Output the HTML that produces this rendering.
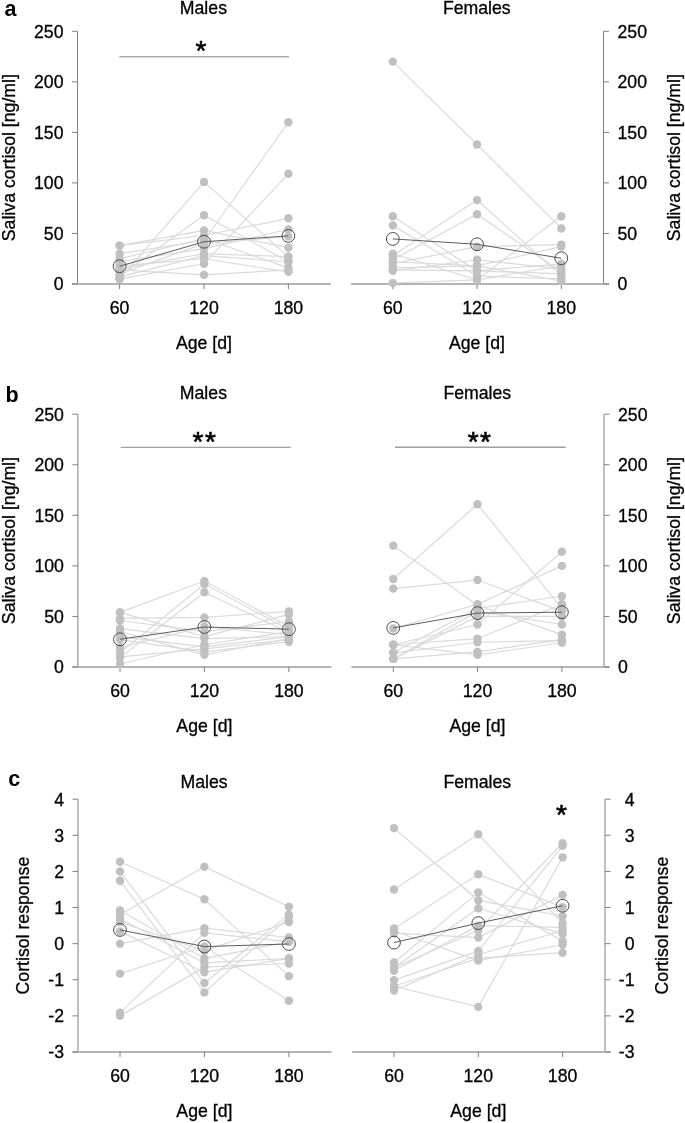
<!DOCTYPE html><html><head><meta charset="utf-8"><style>html,body{margin:0;padding:0;background:#fff;width:685px;height:1123px;overflow:hidden}svg{display:block;will-change:transform;filter:blur(0.35px)}</style></head><body>
<svg width="685" height="1123" viewBox="0 0 685 1123" font-family='"Liberation Sans", sans-serif' font-size="17.7" fill="#000">
<g stroke="#000" stroke-width="0.3">
<rect width="685" height="1123" fill="#fff" stroke="none"/>
<text x="4.5" y="16.3" font-size="21.5" font-weight="bold" stroke="none">a</text>
<text x="5.5" y="401.6" font-size="21.5" font-weight="bold" stroke="none">b</text>
<text x="8.3" y="785.8" font-size="21.5" font-weight="bold" stroke="none">c</text>
<text x="203.4" y="13.7" text-anchor="middle">Males</text>
<text x="476.8" y="13.7" text-anchor="middle">Females</text>
<text x="203.4" y="399.3" text-anchor="middle">Males</text>
<text x="477.3" y="399.3" text-anchor="middle">Females</text>
<text x="204.0" y="787.8" text-anchor="middle">Males</text>
<text x="477.3" y="787.8" text-anchor="middle">Females</text>
<text transform="translate(14.9,157.65) rotate(-90)" text-anchor="middle">Saliva cortisol [ng/ml]</text>
<text transform="translate(679.9,157.65) rotate(-90)" text-anchor="middle">Saliva cortisol [ng/ml]</text>
<text transform="translate(14.9,540.60) rotate(-90)" text-anchor="middle">Saliva cortisol [ng/ml]</text>
<text transform="translate(679.9,540.60) rotate(-90)" text-anchor="middle">Saliva cortisol [ng/ml]</text>
<text transform="translate(28.8,925.60) rotate(-90)" text-anchor="middle">Cortisol response</text>
<text transform="translate(667.7,925.60) rotate(-90)" text-anchor="middle">Cortisol response</text>
<line x1="77.5" y1="31.3" x2="77.5" y2="284.0" stroke="#808080" stroke-width="1"/>
<line x1="72.00" y1="284.0" x2="331.00" y2="284.0" stroke="#b4b4b4" stroke-width="2"/>
<line x1="72.00" y1="284.00" x2="77.5" y2="284.00" stroke="#808080" stroke-width="1"/>
<text x="63.50" y="290.30" text-anchor="end">0</text>
<line x1="72.00" y1="233.46" x2="77.5" y2="233.46" stroke="#808080" stroke-width="1"/>
<text x="63.50" y="239.76" text-anchor="end">50</text>
<line x1="72.00" y1="182.92" x2="77.5" y2="182.92" stroke="#808080" stroke-width="1"/>
<text x="63.50" y="189.22" text-anchor="end">100</text>
<line x1="72.00" y1="132.38" x2="77.5" y2="132.38" stroke="#808080" stroke-width="1"/>
<text x="63.50" y="138.68" text-anchor="end">150</text>
<line x1="72.00" y1="81.84" x2="77.5" y2="81.84" stroke="#808080" stroke-width="1"/>
<text x="63.50" y="88.14" text-anchor="end">200</text>
<line x1="72.00" y1="31.30" x2="77.5" y2="31.30" stroke="#808080" stroke-width="1"/>
<text x="63.50" y="37.60" text-anchor="end">250</text>
<line x1="119.6" y1="284.0" x2="119.6" y2="289.0" stroke="#808080" stroke-width="1"/>
<line x1="204.0" y1="284.0" x2="204.0" y2="289.0" stroke="#808080" stroke-width="1"/>
<line x1="288.4" y1="284.0" x2="288.4" y2="289.0" stroke="#808080" stroke-width="1"/>
<text x="119.6" y="314.20" text-anchor="middle">60</text>
<text x="204.0" y="314.20" text-anchor="middle">120</text>
<text x="288.4" y="314.20" text-anchor="middle">180</text>
<text x="204.0" y="349.20" text-anchor="middle">Age [d]</text>
<line x1="603.5" y1="31.3" x2="603.5" y2="284.0" stroke="#808080" stroke-width="1"/>
<line x1="351.00" y1="284.0" x2="609.00" y2="284.0" stroke="#b4b4b4" stroke-width="2"/>
<line x1="603.5" y1="284.00" x2="609.00" y2="284.00" stroke="#808080" stroke-width="1"/>
<text x="617.50" y="290.30">0</text>
<line x1="603.5" y1="233.46" x2="609.00" y2="233.46" stroke="#808080" stroke-width="1"/>
<text x="617.50" y="239.76">50</text>
<line x1="603.5" y1="182.92" x2="609.00" y2="182.92" stroke="#808080" stroke-width="1"/>
<text x="617.50" y="189.22">100</text>
<line x1="603.5" y1="132.38" x2="609.00" y2="132.38" stroke="#808080" stroke-width="1"/>
<text x="617.50" y="138.68">150</text>
<line x1="603.5" y1="81.84" x2="609.00" y2="81.84" stroke="#808080" stroke-width="1"/>
<text x="617.50" y="88.14">200</text>
<line x1="603.5" y1="31.30" x2="609.00" y2="31.30" stroke="#808080" stroke-width="1"/>
<text x="617.50" y="37.60">250</text>
<line x1="392.8" y1="284.0" x2="392.8" y2="289.0" stroke="#808080" stroke-width="1"/>
<line x1="477.0" y1="284.0" x2="477.0" y2="289.0" stroke="#808080" stroke-width="1"/>
<line x1="561.3" y1="284.0" x2="561.3" y2="289.0" stroke="#808080" stroke-width="1"/>
<text x="392.8" y="314.20" text-anchor="middle">60</text>
<text x="477.0" y="314.20" text-anchor="middle">120</text>
<text x="561.3" y="314.20" text-anchor="middle">180</text>
<text x="477.0" y="349.20" text-anchor="middle">Age [d]</text>
<line x1="77.9" y1="414.2" x2="77.9" y2="667.0" stroke="#808080" stroke-width="1"/>
<line x1="72.40" y1="667.0" x2="331.50" y2="667.0" stroke="#b4b4b4" stroke-width="2"/>
<line x1="72.40" y1="667.00" x2="77.9" y2="667.00" stroke="#808080" stroke-width="1"/>
<text x="63.90" y="673.30" text-anchor="end">0</text>
<line x1="72.40" y1="616.44" x2="77.9" y2="616.44" stroke="#808080" stroke-width="1"/>
<text x="63.90" y="622.74" text-anchor="end">50</text>
<line x1="72.40" y1="565.88" x2="77.9" y2="565.88" stroke="#808080" stroke-width="1"/>
<text x="63.90" y="572.18" text-anchor="end">100</text>
<line x1="72.40" y1="515.32" x2="77.9" y2="515.32" stroke="#808080" stroke-width="1"/>
<text x="63.90" y="521.62" text-anchor="end">150</text>
<line x1="72.40" y1="464.76" x2="77.9" y2="464.76" stroke="#808080" stroke-width="1"/>
<text x="63.90" y="471.06" text-anchor="end">200</text>
<line x1="72.40" y1="414.20" x2="77.9" y2="414.20" stroke="#808080" stroke-width="1"/>
<text x="63.90" y="420.50" text-anchor="end">250</text>
<line x1="120.0" y1="667.0" x2="120.0" y2="672.0" stroke="#808080" stroke-width="1"/>
<line x1="204.4" y1="667.0" x2="204.4" y2="672.0" stroke="#808080" stroke-width="1"/>
<line x1="288.9" y1="667.0" x2="288.9" y2="672.0" stroke="#808080" stroke-width="1"/>
<text x="120.0" y="697.20" text-anchor="middle">60</text>
<text x="204.4" y="697.20" text-anchor="middle">120</text>
<text x="288.9" y="697.20" text-anchor="middle">180</text>
<text x="204.4" y="732.20" text-anchor="middle">Age [d]</text>
<line x1="604.0" y1="414.2" x2="604.0" y2="667.0" stroke="#808080" stroke-width="1"/>
<line x1="351.50" y1="667.0" x2="609.50" y2="667.0" stroke="#b4b4b4" stroke-width="2"/>
<line x1="604.0" y1="667.00" x2="609.50" y2="667.00" stroke="#808080" stroke-width="1"/>
<text x="618.00" y="673.30">0</text>
<line x1="604.0" y1="616.44" x2="609.50" y2="616.44" stroke="#808080" stroke-width="1"/>
<text x="618.00" y="622.74">50</text>
<line x1="604.0" y1="565.88" x2="609.50" y2="565.88" stroke="#808080" stroke-width="1"/>
<text x="618.00" y="572.18">100</text>
<line x1="604.0" y1="515.32" x2="609.50" y2="515.32" stroke="#808080" stroke-width="1"/>
<text x="618.00" y="521.62">150</text>
<line x1="604.0" y1="464.76" x2="609.50" y2="464.76" stroke="#808080" stroke-width="1"/>
<text x="618.00" y="471.06">200</text>
<line x1="604.0" y1="414.20" x2="609.50" y2="414.20" stroke="#808080" stroke-width="1"/>
<text x="618.00" y="420.50">250</text>
<line x1="393.3" y1="667.0" x2="393.3" y2="672.0" stroke="#808080" stroke-width="1"/>
<line x1="477.5" y1="667.0" x2="477.5" y2="672.0" stroke="#808080" stroke-width="1"/>
<line x1="561.9" y1="667.0" x2="561.9" y2="672.0" stroke="#808080" stroke-width="1"/>
<text x="393.3" y="697.20" text-anchor="middle">60</text>
<text x="477.5" y="697.20" text-anchor="middle">120</text>
<text x="561.9" y="697.20" text-anchor="middle">180</text>
<text x="477.5" y="732.20" text-anchor="middle">Age [d]</text>
<line x1="78.0" y1="799.2" x2="78.0" y2="1052.0" stroke="#808080" stroke-width="1"/>
<line x1="72.50" y1="1052.0" x2="331.50" y2="1052.0" stroke="#b4b4b4" stroke-width="2"/>
<line x1="72.50" y1="799.20" x2="78.0" y2="799.20" stroke="#808080" stroke-width="1"/>
<text x="64.00" y="805.50" text-anchor="end">4</text>
<line x1="72.50" y1="835.31" x2="78.0" y2="835.31" stroke="#808080" stroke-width="1"/>
<text x="64.00" y="841.61" text-anchor="end">3</text>
<line x1="72.50" y1="871.43" x2="78.0" y2="871.43" stroke="#808080" stroke-width="1"/>
<text x="64.00" y="877.73" text-anchor="end">2</text>
<line x1="72.50" y1="907.54" x2="78.0" y2="907.54" stroke="#808080" stroke-width="1"/>
<text x="64.00" y="913.84" text-anchor="end">1</text>
<line x1="72.50" y1="943.66" x2="78.0" y2="943.66" stroke="#808080" stroke-width="1"/>
<text x="64.00" y="949.96" text-anchor="end">0</text>
<line x1="72.50" y1="979.77" x2="78.0" y2="979.77" stroke="#808080" stroke-width="1"/>
<text x="64.00" y="986.07" text-anchor="end">-1</text>
<line x1="72.50" y1="1015.89" x2="78.0" y2="1015.89" stroke="#808080" stroke-width="1"/>
<text x="64.00" y="1022.19" text-anchor="end">-2</text>
<line x1="72.50" y1="1052.00" x2="78.0" y2="1052.00" stroke="#808080" stroke-width="1"/>
<text x="64.00" y="1058.30" text-anchor="end">-3</text>
<line x1="120.0" y1="1052.0" x2="120.0" y2="1057.0" stroke="#808080" stroke-width="1"/>
<line x1="204.4" y1="1052.0" x2="204.4" y2="1057.0" stroke="#808080" stroke-width="1"/>
<line x1="288.9" y1="1052.0" x2="288.9" y2="1057.0" stroke="#808080" stroke-width="1"/>
<text x="120.0" y="1082.20" text-anchor="middle">60</text>
<text x="204.4" y="1082.20" text-anchor="middle">120</text>
<text x="288.9" y="1082.20" text-anchor="middle">180</text>
<text x="204.4" y="1117.20" text-anchor="middle">Age [d]</text>
<line x1="605.0" y1="799.2" x2="605.0" y2="1052.0" stroke="#808080" stroke-width="1"/>
<line x1="352.20" y1="1052.0" x2="610.50" y2="1052.0" stroke="#b4b4b4" stroke-width="2"/>
<line x1="605.0" y1="799.20" x2="610.50" y2="799.20" stroke="#808080" stroke-width="1"/>
<text x="634.6" y="805.50" text-anchor="end">4</text>
<line x1="605.0" y1="835.31" x2="610.50" y2="835.31" stroke="#808080" stroke-width="1"/>
<text x="634.6" y="841.61" text-anchor="end">3</text>
<line x1="605.0" y1="871.43" x2="610.50" y2="871.43" stroke="#808080" stroke-width="1"/>
<text x="634.6" y="877.73" text-anchor="end">2</text>
<line x1="605.0" y1="907.54" x2="610.50" y2="907.54" stroke="#808080" stroke-width="1"/>
<text x="634.6" y="913.84" text-anchor="end">1</text>
<line x1="605.0" y1="943.66" x2="610.50" y2="943.66" stroke="#808080" stroke-width="1"/>
<text x="634.6" y="949.96" text-anchor="end">0</text>
<line x1="605.0" y1="979.77" x2="610.50" y2="979.77" stroke="#808080" stroke-width="1"/>
<text x="634.6" y="986.07" text-anchor="end">-1</text>
<line x1="605.0" y1="1015.89" x2="610.50" y2="1015.89" stroke="#808080" stroke-width="1"/>
<text x="634.6" y="1022.19" text-anchor="end">-2</text>
<line x1="605.0" y1="1052.00" x2="610.50" y2="1052.00" stroke="#808080" stroke-width="1"/>
<text x="634.6" y="1058.30" text-anchor="end">-3</text>
<line x1="394.0" y1="1052.0" x2="394.0" y2="1057.0" stroke="#808080" stroke-width="1"/>
<line x1="478.3" y1="1052.0" x2="478.3" y2="1057.0" stroke="#808080" stroke-width="1"/>
<line x1="562.6" y1="1052.0" x2="562.6" y2="1057.0" stroke="#808080" stroke-width="1"/>
<text x="394.0" y="1082.20" text-anchor="middle">60</text>
<text x="478.3" y="1082.20" text-anchor="middle">120</text>
<text x="562.6" y="1082.20" text-anchor="middle">180</text>
<text x="478.3" y="1117.20" text-anchor="middle">Age [d]</text>
<polyline points="119.6,278.95 204.0,181.91 288.4,256.71" fill="none" stroke="#dadada" stroke-width="1.2"/>
<polyline points="119.6,275.91 204.0,215.27 288.4,261.76" fill="none" stroke="#dadada" stroke-width="1.2"/>
<polyline points="119.6,245.59 204.0,230.43 288.4,247.61" fill="none" stroke="#dadada" stroke-width="1.2"/>
<polyline points="119.6,253.68 204.0,240.54 288.4,122.27" fill="none" stroke="#dadada" stroke-width="1.2"/>
<polyline points="119.6,278.95 204.0,263.78 288.4,173.82" fill="none" stroke="#dadada" stroke-width="1.2"/>
<polyline points="119.6,269.85 204.0,274.90 288.4,269.85" fill="none" stroke="#dadada" stroke-width="1.2"/>
<polyline points="119.6,245.59 204.0,235.48 288.4,218.30" fill="none" stroke="#dadada" stroke-width="1.2"/>
<polyline points="119.6,261.76 204.0,248.62 288.4,229.42" fill="none" stroke="#dadada" stroke-width="1.2"/>
<polyline points="119.6,268.84 204.0,253.68 288.4,256.71" fill="none" stroke="#dadada" stroke-width="1.2"/>
<polyline points="119.6,265.81 204.0,258.73 288.4,271.87" fill="none" stroke="#dadada" stroke-width="1.2"/>
<polyline points="119.6,273.89 204.0,243.57 288.4,236.49" fill="none" stroke="#dadada" stroke-width="1.2"/>
<polyline points="119.6,276.92 204.0,255.70 288.4,261.76" fill="none" stroke="#dadada" stroke-width="1.2"/>
<polyline points="119.6,258.73 204.0,238.51 288.4,267.83" fill="none" stroke="#dadada" stroke-width="1.2"/>
<circle cx="119.6" cy="278.95" r="4.2" fill="#c0c0c0" stroke="none"/>
<circle cx="204.0" cy="181.91" r="4.2" fill="#c0c0c0" stroke="none"/>
<circle cx="288.4" cy="256.71" r="4.2" fill="#c0c0c0" stroke="none"/>
<circle cx="119.6" cy="275.91" r="4.2" fill="#c0c0c0" stroke="none"/>
<circle cx="204.0" cy="215.27" r="4.2" fill="#c0c0c0" stroke="none"/>
<circle cx="288.4" cy="261.76" r="4.2" fill="#c0c0c0" stroke="none"/>
<circle cx="119.6" cy="245.59" r="4.2" fill="#c0c0c0" stroke="none"/>
<circle cx="204.0" cy="230.43" r="4.2" fill="#c0c0c0" stroke="none"/>
<circle cx="288.4" cy="247.61" r="4.2" fill="#c0c0c0" stroke="none"/>
<circle cx="119.6" cy="253.68" r="4.2" fill="#c0c0c0" stroke="none"/>
<circle cx="204.0" cy="240.54" r="4.2" fill="#c0c0c0" stroke="none"/>
<circle cx="288.4" cy="122.27" r="4.2" fill="#c0c0c0" stroke="none"/>
<circle cx="119.6" cy="278.95" r="4.2" fill="#c0c0c0" stroke="none"/>
<circle cx="204.0" cy="263.78" r="4.2" fill="#c0c0c0" stroke="none"/>
<circle cx="288.4" cy="173.82" r="4.2" fill="#c0c0c0" stroke="none"/>
<circle cx="119.6" cy="269.85" r="4.2" fill="#c0c0c0" stroke="none"/>
<circle cx="204.0" cy="274.90" r="4.2" fill="#c0c0c0" stroke="none"/>
<circle cx="288.4" cy="269.85" r="4.2" fill="#c0c0c0" stroke="none"/>
<circle cx="119.6" cy="245.59" r="4.2" fill="#c0c0c0" stroke="none"/>
<circle cx="204.0" cy="235.48" r="4.2" fill="#c0c0c0" stroke="none"/>
<circle cx="288.4" cy="218.30" r="4.2" fill="#c0c0c0" stroke="none"/>
<circle cx="119.6" cy="261.76" r="4.2" fill="#c0c0c0" stroke="none"/>
<circle cx="204.0" cy="248.62" r="4.2" fill="#c0c0c0" stroke="none"/>
<circle cx="288.4" cy="229.42" r="4.2" fill="#c0c0c0" stroke="none"/>
<circle cx="119.6" cy="268.84" r="4.2" fill="#c0c0c0" stroke="none"/>
<circle cx="204.0" cy="253.68" r="4.2" fill="#c0c0c0" stroke="none"/>
<circle cx="288.4" cy="256.71" r="4.2" fill="#c0c0c0" stroke="none"/>
<circle cx="119.6" cy="265.81" r="4.2" fill="#c0c0c0" stroke="none"/>
<circle cx="204.0" cy="258.73" r="4.2" fill="#c0c0c0" stroke="none"/>
<circle cx="288.4" cy="271.87" r="4.2" fill="#c0c0c0" stroke="none"/>
<circle cx="119.6" cy="273.89" r="4.2" fill="#c0c0c0" stroke="none"/>
<circle cx="204.0" cy="243.57" r="4.2" fill="#c0c0c0" stroke="none"/>
<circle cx="288.4" cy="236.49" r="4.2" fill="#c0c0c0" stroke="none"/>
<circle cx="119.6" cy="276.92" r="4.2" fill="#c0c0c0" stroke="none"/>
<circle cx="204.0" cy="255.70" r="4.2" fill="#c0c0c0" stroke="none"/>
<circle cx="288.4" cy="261.76" r="4.2" fill="#c0c0c0" stroke="none"/>
<circle cx="119.6" cy="258.73" r="4.2" fill="#c0c0c0" stroke="none"/>
<circle cx="204.0" cy="238.51" r="4.2" fill="#c0c0c0" stroke="none"/>
<circle cx="288.4" cy="267.83" r="4.2" fill="#c0c0c0" stroke="none"/>
<polyline points="119.6,266.21 204.0,241.75 288.4,235.89" fill="none" stroke="#5c5c5c" stroke-width="1"/>
<circle cx="119.6" cy="266.21" r="6.4" fill="none" stroke="#4a4a4a" stroke-width="1.0"/>
<circle cx="204.0" cy="241.75" r="6.4" fill="none" stroke="#4a4a4a" stroke-width="1.0"/>
<circle cx="288.4" cy="235.89" r="6.4" fill="none" stroke="#4a4a4a" stroke-width="1.0"/>
<polyline points="392.8,61.62 477.0,144.51 561.3,228.41" fill="none" stroke="#dadada" stroke-width="1.2"/>
<polyline points="392.8,216.28 477.0,270.86 561.3,273.89" fill="none" stroke="#dadada" stroke-width="1.2"/>
<polyline points="392.8,225.37 477.0,275.91 561.3,278.95" fill="none" stroke="#dadada" stroke-width="1.2"/>
<polyline points="392.8,255.70 477.0,200.10 561.3,275.91" fill="none" stroke="#dadada" stroke-width="1.2"/>
<polyline points="392.8,259.74 477.0,214.25 561.3,271.87" fill="none" stroke="#dadada" stroke-width="1.2"/>
<polyline points="392.8,282.99 477.0,279.96 561.3,265.81" fill="none" stroke="#dadada" stroke-width="1.2"/>
<polyline points="392.8,253.68 477.0,279.96 561.3,216.28" fill="none" stroke="#dadada" stroke-width="1.2"/>
<polyline points="392.8,263.78 477.0,246.60 561.3,244.58" fill="none" stroke="#dadada" stroke-width="1.2"/>
<polyline points="392.8,267.83 477.0,265.81 561.3,246.60" fill="none" stroke="#dadada" stroke-width="1.2"/>
<polyline points="392.8,270.86 477.0,259.74 561.3,268.84" fill="none" stroke="#dadada" stroke-width="1.2"/>
<polyline points="392.8,261.76 477.0,265.81 561.3,280.97" fill="none" stroke="#dadada" stroke-width="1.2"/>
<polyline points="392.8,269.85 477.0,270.86 561.3,263.78" fill="none" stroke="#dadada" stroke-width="1.2"/>
<circle cx="392.8" cy="61.62" r="4.2" fill="#c0c0c0" stroke="none"/>
<circle cx="477.0" cy="144.51" r="4.2" fill="#c0c0c0" stroke="none"/>
<circle cx="561.3" cy="228.41" r="4.2" fill="#c0c0c0" stroke="none"/>
<circle cx="392.8" cy="216.28" r="4.2" fill="#c0c0c0" stroke="none"/>
<circle cx="477.0" cy="270.86" r="4.2" fill="#c0c0c0" stroke="none"/>
<circle cx="561.3" cy="273.89" r="4.2" fill="#c0c0c0" stroke="none"/>
<circle cx="392.8" cy="225.37" r="4.2" fill="#c0c0c0" stroke="none"/>
<circle cx="477.0" cy="275.91" r="4.2" fill="#c0c0c0" stroke="none"/>
<circle cx="561.3" cy="278.95" r="4.2" fill="#c0c0c0" stroke="none"/>
<circle cx="392.8" cy="255.70" r="4.2" fill="#c0c0c0" stroke="none"/>
<circle cx="477.0" cy="200.10" r="4.2" fill="#c0c0c0" stroke="none"/>
<circle cx="561.3" cy="275.91" r="4.2" fill="#c0c0c0" stroke="none"/>
<circle cx="392.8" cy="259.74" r="4.2" fill="#c0c0c0" stroke="none"/>
<circle cx="477.0" cy="214.25" r="4.2" fill="#c0c0c0" stroke="none"/>
<circle cx="561.3" cy="271.87" r="4.2" fill="#c0c0c0" stroke="none"/>
<circle cx="392.8" cy="282.99" r="4.2" fill="#c0c0c0" stroke="none"/>
<circle cx="477.0" cy="279.96" r="4.2" fill="#c0c0c0" stroke="none"/>
<circle cx="561.3" cy="265.81" r="4.2" fill="#c0c0c0" stroke="none"/>
<circle cx="392.8" cy="253.68" r="4.2" fill="#c0c0c0" stroke="none"/>
<circle cx="477.0" cy="279.96" r="4.2" fill="#c0c0c0" stroke="none"/>
<circle cx="561.3" cy="216.28" r="4.2" fill="#c0c0c0" stroke="none"/>
<circle cx="392.8" cy="263.78" r="4.2" fill="#c0c0c0" stroke="none"/>
<circle cx="477.0" cy="246.60" r="4.2" fill="#c0c0c0" stroke="none"/>
<circle cx="561.3" cy="244.58" r="4.2" fill="#c0c0c0" stroke="none"/>
<circle cx="392.8" cy="267.83" r="4.2" fill="#c0c0c0" stroke="none"/>
<circle cx="477.0" cy="265.81" r="4.2" fill="#c0c0c0" stroke="none"/>
<circle cx="561.3" cy="246.60" r="4.2" fill="#c0c0c0" stroke="none"/>
<circle cx="392.8" cy="270.86" r="4.2" fill="#c0c0c0" stroke="none"/>
<circle cx="477.0" cy="259.74" r="4.2" fill="#c0c0c0" stroke="none"/>
<circle cx="561.3" cy="268.84" r="4.2" fill="#c0c0c0" stroke="none"/>
<circle cx="392.8" cy="261.76" r="4.2" fill="#c0c0c0" stroke="none"/>
<circle cx="477.0" cy="265.81" r="4.2" fill="#c0c0c0" stroke="none"/>
<circle cx="561.3" cy="280.97" r="4.2" fill="#c0c0c0" stroke="none"/>
<circle cx="392.8" cy="269.85" r="4.2" fill="#c0c0c0" stroke="none"/>
<circle cx="477.0" cy="270.86" r="4.2" fill="#c0c0c0" stroke="none"/>
<circle cx="561.3" cy="263.78" r="4.2" fill="#c0c0c0" stroke="none"/>
<polyline points="392.8,238.92 477.0,244.28 561.3,258.22" fill="none" stroke="#5c5c5c" stroke-width="1"/>
<circle cx="392.8" cy="238.92" r="6.4" fill="none" stroke="#4a4a4a" stroke-width="1.0"/>
<circle cx="477.0" cy="244.28" r="6.4" fill="none" stroke="#4a4a4a" stroke-width="1.0"/>
<circle cx="561.3" cy="258.22" r="6.4" fill="none" stroke="#4a4a4a" stroke-width="1.0"/>
<polyline points="120.0,612.40 204.4,581.05 288.9,626.55" fill="none" stroke="#dadada" stroke-width="1.2"/>
<polyline points="120.0,652.84 204.4,584.08 288.9,629.59" fill="none" stroke="#dadada" stroke-width="1.2"/>
<polyline points="120.0,657.90 204.4,592.17 288.9,632.62" fill="none" stroke="#dadada" stroke-width="1.2"/>
<polyline points="120.0,618.46 204.4,617.45 288.9,611.38" fill="none" stroke="#dadada" stroke-width="1.2"/>
<polyline points="120.0,612.40 204.4,636.66 288.9,614.42" fill="none" stroke="#dadada" stroke-width="1.2"/>
<polyline points="120.0,620.48 204.4,631.61 288.9,621.50" fill="none" stroke="#dadada" stroke-width="1.2"/>
<polyline points="120.0,628.57 204.4,638.69 288.9,636.66" fill="none" stroke="#dadada" stroke-width="1.2"/>
<polyline points="120.0,631.61 204.4,654.87 288.9,638.69" fill="none" stroke="#dadada" stroke-width="1.2"/>
<polyline points="120.0,647.79 204.4,626.55 288.9,634.64" fill="none" stroke="#dadada" stroke-width="1.2"/>
<polyline points="120.0,639.70 204.4,651.83 288.9,641.72" fill="none" stroke="#dadada" stroke-width="1.2"/>
<polyline points="120.0,663.97 204.4,644.75 288.9,631.61" fill="none" stroke="#dadada" stroke-width="1.2"/>
<polyline points="120.0,656.89 204.4,648.80 288.9,639.70" fill="none" stroke="#dadada" stroke-width="1.2"/>
<polyline points="120.0,636.66 204.4,646.78 288.9,636.66" fill="none" stroke="#dadada" stroke-width="1.2"/>
<circle cx="120.0" cy="612.40" r="4.2" fill="#c0c0c0" stroke="none"/>
<circle cx="204.4" cy="581.05" r="4.2" fill="#c0c0c0" stroke="none"/>
<circle cx="288.9" cy="626.55" r="4.2" fill="#c0c0c0" stroke="none"/>
<circle cx="120.0" cy="652.84" r="4.2" fill="#c0c0c0" stroke="none"/>
<circle cx="204.4" cy="584.08" r="4.2" fill="#c0c0c0" stroke="none"/>
<circle cx="288.9" cy="629.59" r="4.2" fill="#c0c0c0" stroke="none"/>
<circle cx="120.0" cy="657.90" r="4.2" fill="#c0c0c0" stroke="none"/>
<circle cx="204.4" cy="592.17" r="4.2" fill="#c0c0c0" stroke="none"/>
<circle cx="288.9" cy="632.62" r="4.2" fill="#c0c0c0" stroke="none"/>
<circle cx="120.0" cy="618.46" r="4.2" fill="#c0c0c0" stroke="none"/>
<circle cx="204.4" cy="617.45" r="4.2" fill="#c0c0c0" stroke="none"/>
<circle cx="288.9" cy="611.38" r="4.2" fill="#c0c0c0" stroke="none"/>
<circle cx="120.0" cy="612.40" r="4.2" fill="#c0c0c0" stroke="none"/>
<circle cx="204.4" cy="636.66" r="4.2" fill="#c0c0c0" stroke="none"/>
<circle cx="288.9" cy="614.42" r="4.2" fill="#c0c0c0" stroke="none"/>
<circle cx="120.0" cy="620.48" r="4.2" fill="#c0c0c0" stroke="none"/>
<circle cx="204.4" cy="631.61" r="4.2" fill="#c0c0c0" stroke="none"/>
<circle cx="288.9" cy="621.50" r="4.2" fill="#c0c0c0" stroke="none"/>
<circle cx="120.0" cy="628.57" r="4.2" fill="#c0c0c0" stroke="none"/>
<circle cx="204.4" cy="638.69" r="4.2" fill="#c0c0c0" stroke="none"/>
<circle cx="288.9" cy="636.66" r="4.2" fill="#c0c0c0" stroke="none"/>
<circle cx="120.0" cy="631.61" r="4.2" fill="#c0c0c0" stroke="none"/>
<circle cx="204.4" cy="654.87" r="4.2" fill="#c0c0c0" stroke="none"/>
<circle cx="288.9" cy="638.69" r="4.2" fill="#c0c0c0" stroke="none"/>
<circle cx="120.0" cy="647.79" r="4.2" fill="#c0c0c0" stroke="none"/>
<circle cx="204.4" cy="626.55" r="4.2" fill="#c0c0c0" stroke="none"/>
<circle cx="288.9" cy="634.64" r="4.2" fill="#c0c0c0" stroke="none"/>
<circle cx="120.0" cy="639.70" r="4.2" fill="#c0c0c0" stroke="none"/>
<circle cx="204.4" cy="651.83" r="4.2" fill="#c0c0c0" stroke="none"/>
<circle cx="288.9" cy="641.72" r="4.2" fill="#c0c0c0" stroke="none"/>
<circle cx="120.0" cy="663.97" r="4.2" fill="#c0c0c0" stroke="none"/>
<circle cx="204.4" cy="644.75" r="4.2" fill="#c0c0c0" stroke="none"/>
<circle cx="288.9" cy="631.61" r="4.2" fill="#c0c0c0" stroke="none"/>
<circle cx="120.0" cy="656.89" r="4.2" fill="#c0c0c0" stroke="none"/>
<circle cx="204.4" cy="648.80" r="4.2" fill="#c0c0c0" stroke="none"/>
<circle cx="288.9" cy="639.70" r="4.2" fill="#c0c0c0" stroke="none"/>
<circle cx="120.0" cy="636.66" r="4.2" fill="#c0c0c0" stroke="none"/>
<circle cx="204.4" cy="646.78" r="4.2" fill="#c0c0c0" stroke="none"/>
<circle cx="288.9" cy="636.66" r="4.2" fill="#c0c0c0" stroke="none"/>
<polyline points="120.0,639.29 204.4,627.06 288.9,629.18" fill="none" stroke="#5c5c5c" stroke-width="1"/>
<circle cx="120.0" cy="639.29" r="6.4" fill="none" stroke="#4a4a4a" stroke-width="1.0"/>
<circle cx="204.4" cy="627.06" r="6.4" fill="none" stroke="#4a4a4a" stroke-width="1.0"/>
<circle cx="288.9" cy="629.18" r="6.4" fill="none" stroke="#4a4a4a" stroke-width="1.0"/>
<polyline points="393.3,545.66 477.5,605.32 561.9,634.64" fill="none" stroke="#dadada" stroke-width="1.2"/>
<polyline points="393.3,579.03 477.5,504.20 561.9,608.35" fill="none" stroke="#dadada" stroke-width="1.2"/>
<polyline points="393.3,588.63 477.5,580.04 561.9,611.38" fill="none" stroke="#dadada" stroke-width="1.2"/>
<polyline points="393.3,628.57 477.5,604.31 561.9,565.88" fill="none" stroke="#dadada" stroke-width="1.2"/>
<polyline points="393.3,644.75 477.5,624.53 561.9,551.72" fill="none" stroke="#dadada" stroke-width="1.2"/>
<polyline points="393.3,652.84 477.5,608.35 561.9,596.22" fill="none" stroke="#dadada" stroke-width="1.2"/>
<polyline points="393.3,658.91 477.5,611.38 561.9,624.53" fill="none" stroke="#dadada" stroke-width="1.2"/>
<polyline points="393.3,644.75 477.5,638.69 561.9,604.31" fill="none" stroke="#dadada" stroke-width="1.2"/>
<polyline points="393.3,652.84 477.5,642.23 561.9,640.71" fill="none" stroke="#dadada" stroke-width="1.2"/>
<polyline points="393.3,658.91 477.5,651.83 561.9,639.70" fill="none" stroke="#dadada" stroke-width="1.2"/>
<polyline points="393.3,644.75 477.5,654.87 561.9,642.73" fill="none" stroke="#dadada" stroke-width="1.2"/>
<polyline points="393.3,658.91 477.5,616.44 561.9,616.44" fill="none" stroke="#dadada" stroke-width="1.2"/>
<circle cx="393.3" cy="545.66" r="4.2" fill="#c0c0c0" stroke="none"/>
<circle cx="477.5" cy="605.32" r="4.2" fill="#c0c0c0" stroke="none"/>
<circle cx="561.9" cy="634.64" r="4.2" fill="#c0c0c0" stroke="none"/>
<circle cx="393.3" cy="579.03" r="4.2" fill="#c0c0c0" stroke="none"/>
<circle cx="477.5" cy="504.20" r="4.2" fill="#c0c0c0" stroke="none"/>
<circle cx="561.9" cy="608.35" r="4.2" fill="#c0c0c0" stroke="none"/>
<circle cx="393.3" cy="588.63" r="4.2" fill="#c0c0c0" stroke="none"/>
<circle cx="477.5" cy="580.04" r="4.2" fill="#c0c0c0" stroke="none"/>
<circle cx="561.9" cy="611.38" r="4.2" fill="#c0c0c0" stroke="none"/>
<circle cx="393.3" cy="628.57" r="4.2" fill="#c0c0c0" stroke="none"/>
<circle cx="477.5" cy="604.31" r="4.2" fill="#c0c0c0" stroke="none"/>
<circle cx="561.9" cy="565.88" r="4.2" fill="#c0c0c0" stroke="none"/>
<circle cx="393.3" cy="644.75" r="4.2" fill="#c0c0c0" stroke="none"/>
<circle cx="477.5" cy="624.53" r="4.2" fill="#c0c0c0" stroke="none"/>
<circle cx="561.9" cy="551.72" r="4.2" fill="#c0c0c0" stroke="none"/>
<circle cx="393.3" cy="652.84" r="4.2" fill="#c0c0c0" stroke="none"/>
<circle cx="477.5" cy="608.35" r="4.2" fill="#c0c0c0" stroke="none"/>
<circle cx="561.9" cy="596.22" r="4.2" fill="#c0c0c0" stroke="none"/>
<circle cx="393.3" cy="658.91" r="4.2" fill="#c0c0c0" stroke="none"/>
<circle cx="477.5" cy="611.38" r="4.2" fill="#c0c0c0" stroke="none"/>
<circle cx="561.9" cy="624.53" r="4.2" fill="#c0c0c0" stroke="none"/>
<circle cx="393.3" cy="644.75" r="4.2" fill="#c0c0c0" stroke="none"/>
<circle cx="477.5" cy="638.69" r="4.2" fill="#c0c0c0" stroke="none"/>
<circle cx="561.9" cy="604.31" r="4.2" fill="#c0c0c0" stroke="none"/>
<circle cx="393.3" cy="652.84" r="4.2" fill="#c0c0c0" stroke="none"/>
<circle cx="477.5" cy="642.23" r="4.2" fill="#c0c0c0" stroke="none"/>
<circle cx="561.9" cy="640.71" r="4.2" fill="#c0c0c0" stroke="none"/>
<circle cx="393.3" cy="658.91" r="4.2" fill="#c0c0c0" stroke="none"/>
<circle cx="477.5" cy="651.83" r="4.2" fill="#c0c0c0" stroke="none"/>
<circle cx="561.9" cy="639.70" r="4.2" fill="#c0c0c0" stroke="none"/>
<circle cx="393.3" cy="644.75" r="4.2" fill="#c0c0c0" stroke="none"/>
<circle cx="477.5" cy="654.87" r="4.2" fill="#c0c0c0" stroke="none"/>
<circle cx="561.9" cy="642.73" r="4.2" fill="#c0c0c0" stroke="none"/>
<circle cx="393.3" cy="658.91" r="4.2" fill="#c0c0c0" stroke="none"/>
<circle cx="477.5" cy="616.44" r="4.2" fill="#c0c0c0" stroke="none"/>
<circle cx="561.9" cy="616.44" r="4.2" fill="#c0c0c0" stroke="none"/>
<polyline points="393.3,627.87 477.5,613.10 561.9,612.19" fill="none" stroke="#5c5c5c" stroke-width="1"/>
<circle cx="393.3" cy="627.87" r="6.4" fill="none" stroke="#4a4a4a" stroke-width="1.0"/>
<circle cx="477.5" cy="613.10" r="6.4" fill="none" stroke="#4a4a4a" stroke-width="1.0"/>
<circle cx="561.9" cy="612.19" r="6.4" fill="none" stroke="#4a4a4a" stroke-width="1.0"/>
<polyline points="120.0,861.68 204.4,899.24 288.9,976.16" fill="none" stroke="#dadada" stroke-width="1.2"/>
<polyline points="120.0,871.43 204.4,983.02 288.9,914.40" fill="none" stroke="#dadada" stroke-width="1.2"/>
<polyline points="120.0,880.82 204.4,992.41 288.9,916.93" fill="none" stroke="#dadada" stroke-width="1.2"/>
<polyline points="120.0,914.40 204.4,866.73 288.9,906.82" fill="none" stroke="#dadada" stroke-width="1.2"/>
<polyline points="120.0,1012.64 204.4,932.82 288.9,941.85" fill="none" stroke="#dadada" stroke-width="1.2"/>
<polyline points="120.0,1015.89 204.4,967.13 288.9,963.52" fill="none" stroke="#dadada" stroke-width="1.2"/>
<polyline points="120.0,973.63 204.4,946.55 288.9,1000.72" fill="none" stroke="#dadada" stroke-width="1.2"/>
<polyline points="120.0,943.66 204.4,928.13 288.9,937.52" fill="none" stroke="#dadada" stroke-width="1.2"/>
<polyline points="120.0,910.43 204.4,958.46 288.9,941.85" fill="none" stroke="#dadada" stroke-width="1.2"/>
<polyline points="120.0,918.74 204.4,962.80 288.9,958.46" fill="none" stroke="#dadada" stroke-width="1.2"/>
<polyline points="120.0,931.38 204.4,972.19 288.9,958.46" fill="none" stroke="#dadada" stroke-width="1.2"/>
<polyline points="120.0,921.99 204.4,950.88 288.9,921.99" fill="none" stroke="#dadada" stroke-width="1.2"/>
<circle cx="120.0" cy="861.68" r="4.2" fill="#c0c0c0" stroke="none"/>
<circle cx="204.4" cy="899.24" r="4.2" fill="#c0c0c0" stroke="none"/>
<circle cx="288.9" cy="976.16" r="4.2" fill="#c0c0c0" stroke="none"/>
<circle cx="120.0" cy="871.43" r="4.2" fill="#c0c0c0" stroke="none"/>
<circle cx="204.4" cy="983.02" r="4.2" fill="#c0c0c0" stroke="none"/>
<circle cx="288.9" cy="914.40" r="4.2" fill="#c0c0c0" stroke="none"/>
<circle cx="120.0" cy="880.82" r="4.2" fill="#c0c0c0" stroke="none"/>
<circle cx="204.4" cy="992.41" r="4.2" fill="#c0c0c0" stroke="none"/>
<circle cx="288.9" cy="916.93" r="4.2" fill="#c0c0c0" stroke="none"/>
<circle cx="120.0" cy="914.40" r="4.2" fill="#c0c0c0" stroke="none"/>
<circle cx="204.4" cy="866.73" r="4.2" fill="#c0c0c0" stroke="none"/>
<circle cx="288.9" cy="906.82" r="4.2" fill="#c0c0c0" stroke="none"/>
<circle cx="120.0" cy="1012.64" r="4.2" fill="#c0c0c0" stroke="none"/>
<circle cx="204.4" cy="932.82" r="4.2" fill="#c0c0c0" stroke="none"/>
<circle cx="288.9" cy="941.85" r="4.2" fill="#c0c0c0" stroke="none"/>
<circle cx="120.0" cy="1015.89" r="4.2" fill="#c0c0c0" stroke="none"/>
<circle cx="204.4" cy="967.13" r="4.2" fill="#c0c0c0" stroke="none"/>
<circle cx="288.9" cy="963.52" r="4.2" fill="#c0c0c0" stroke="none"/>
<circle cx="120.0" cy="973.63" r="4.2" fill="#c0c0c0" stroke="none"/>
<circle cx="204.4" cy="946.55" r="4.2" fill="#c0c0c0" stroke="none"/>
<circle cx="288.9" cy="1000.72" r="4.2" fill="#c0c0c0" stroke="none"/>
<circle cx="120.0" cy="943.66" r="4.2" fill="#c0c0c0" stroke="none"/>
<circle cx="204.4" cy="928.13" r="4.2" fill="#c0c0c0" stroke="none"/>
<circle cx="288.9" cy="937.52" r="4.2" fill="#c0c0c0" stroke="none"/>
<circle cx="120.0" cy="910.43" r="4.2" fill="#c0c0c0" stroke="none"/>
<circle cx="204.4" cy="958.46" r="4.2" fill="#c0c0c0" stroke="none"/>
<circle cx="288.9" cy="941.85" r="4.2" fill="#c0c0c0" stroke="none"/>
<circle cx="120.0" cy="918.74" r="4.2" fill="#c0c0c0" stroke="none"/>
<circle cx="204.4" cy="962.80" r="4.2" fill="#c0c0c0" stroke="none"/>
<circle cx="288.9" cy="958.46" r="4.2" fill="#c0c0c0" stroke="none"/>
<circle cx="120.0" cy="931.38" r="4.2" fill="#c0c0c0" stroke="none"/>
<circle cx="204.4" cy="972.19" r="4.2" fill="#c0c0c0" stroke="none"/>
<circle cx="288.9" cy="958.46" r="4.2" fill="#c0c0c0" stroke="none"/>
<circle cx="120.0" cy="921.99" r="4.2" fill="#c0c0c0" stroke="none"/>
<circle cx="204.4" cy="950.88" r="4.2" fill="#c0c0c0" stroke="none"/>
<circle cx="288.9" cy="921.99" r="4.2" fill="#c0c0c0" stroke="none"/>
<polyline points="120.0,929.93 204.4,946.55 288.9,944.02" fill="none" stroke="#5c5c5c" stroke-width="1"/>
<circle cx="120.0" cy="929.93" r="6.4" fill="none" stroke="#4a4a4a" stroke-width="1.0"/>
<circle cx="204.4" cy="946.55" r="6.4" fill="none" stroke="#4a4a4a" stroke-width="1.0"/>
<circle cx="288.9" cy="944.02" r="6.4" fill="none" stroke="#4a4a4a" stroke-width="1.0"/>
<polyline points="394.0,828.09 478.3,900.32 562.6,916.21" fill="none" stroke="#dadada" stroke-width="1.2"/>
<polyline points="394.0,889.49 478.3,834.23 562.6,923.43" fill="none" stroke="#dadada" stroke-width="1.2"/>
<polyline points="394.0,928.49 478.3,874.32 562.6,907.18" fill="none" stroke="#dadada" stroke-width="1.2"/>
<polyline points="394.0,933.18 478.3,937.52 562.6,894.90" fill="none" stroke="#dadada" stroke-width="1.2"/>
<polyline points="394.0,931.02 478.3,960.63 562.6,944.74" fill="none" stroke="#dadada" stroke-width="1.2"/>
<polyline points="394.0,962.44 478.3,892.37 562.6,941.13" fill="none" stroke="#dadada" stroke-width="1.2"/>
<polyline points="394.0,967.85 478.3,908.27 562.6,933.91" fill="none" stroke="#dadada" stroke-width="1.2"/>
<polyline points="394.0,967.85 478.3,930.29 562.6,843.26" fill="none" stroke="#dadada" stroke-width="1.2"/>
<polyline points="394.0,980.13 478.3,950.88 562.6,845.79" fill="none" stroke="#dadada" stroke-width="1.2"/>
<polyline points="394.0,986.27 478.3,958.10 562.6,952.69" fill="none" stroke="#dadada" stroke-width="1.2"/>
<polyline points="394.0,986.27 478.3,1006.86 562.6,857.34" fill="none" stroke="#dadada" stroke-width="1.2"/>
<polyline points="394.0,970.74 478.3,925.60 562.6,927.41" fill="none" stroke="#dadada" stroke-width="1.2"/>
<polyline points="394.0,990.61 478.3,954.49 562.6,931.02" fill="none" stroke="#dadada" stroke-width="1.2"/>
<circle cx="394.0" cy="828.09" r="4.2" fill="#c0c0c0" stroke="none"/>
<circle cx="478.3" cy="900.32" r="4.2" fill="#c0c0c0" stroke="none"/>
<circle cx="562.6" cy="916.21" r="4.2" fill="#c0c0c0" stroke="none"/>
<circle cx="394.0" cy="889.49" r="4.2" fill="#c0c0c0" stroke="none"/>
<circle cx="478.3" cy="834.23" r="4.2" fill="#c0c0c0" stroke="none"/>
<circle cx="562.6" cy="923.43" r="4.2" fill="#c0c0c0" stroke="none"/>
<circle cx="394.0" cy="928.49" r="4.2" fill="#c0c0c0" stroke="none"/>
<circle cx="478.3" cy="874.32" r="4.2" fill="#c0c0c0" stroke="none"/>
<circle cx="562.6" cy="907.18" r="4.2" fill="#c0c0c0" stroke="none"/>
<circle cx="394.0" cy="933.18" r="4.2" fill="#c0c0c0" stroke="none"/>
<circle cx="478.3" cy="937.52" r="4.2" fill="#c0c0c0" stroke="none"/>
<circle cx="562.6" cy="894.90" r="4.2" fill="#c0c0c0" stroke="none"/>
<circle cx="394.0" cy="931.02" r="4.2" fill="#c0c0c0" stroke="none"/>
<circle cx="478.3" cy="960.63" r="4.2" fill="#c0c0c0" stroke="none"/>
<circle cx="562.6" cy="944.74" r="4.2" fill="#c0c0c0" stroke="none"/>
<circle cx="394.0" cy="962.44" r="4.2" fill="#c0c0c0" stroke="none"/>
<circle cx="478.3" cy="892.37" r="4.2" fill="#c0c0c0" stroke="none"/>
<circle cx="562.6" cy="941.13" r="4.2" fill="#c0c0c0" stroke="none"/>
<circle cx="394.0" cy="967.85" r="4.2" fill="#c0c0c0" stroke="none"/>
<circle cx="478.3" cy="908.27" r="4.2" fill="#c0c0c0" stroke="none"/>
<circle cx="562.6" cy="933.91" r="4.2" fill="#c0c0c0" stroke="none"/>
<circle cx="394.0" cy="967.85" r="4.2" fill="#c0c0c0" stroke="none"/>
<circle cx="478.3" cy="930.29" r="4.2" fill="#c0c0c0" stroke="none"/>
<circle cx="562.6" cy="843.26" r="4.2" fill="#c0c0c0" stroke="none"/>
<circle cx="394.0" cy="980.13" r="4.2" fill="#c0c0c0" stroke="none"/>
<circle cx="478.3" cy="950.88" r="4.2" fill="#c0c0c0" stroke="none"/>
<circle cx="562.6" cy="845.79" r="4.2" fill="#c0c0c0" stroke="none"/>
<circle cx="394.0" cy="986.27" r="4.2" fill="#c0c0c0" stroke="none"/>
<circle cx="478.3" cy="958.10" r="4.2" fill="#c0c0c0" stroke="none"/>
<circle cx="562.6" cy="952.69" r="4.2" fill="#c0c0c0" stroke="none"/>
<circle cx="394.0" cy="986.27" r="4.2" fill="#c0c0c0" stroke="none"/>
<circle cx="478.3" cy="1006.86" r="4.2" fill="#c0c0c0" stroke="none"/>
<circle cx="562.6" cy="857.34" r="4.2" fill="#c0c0c0" stroke="none"/>
<circle cx="394.0" cy="970.74" r="4.2" fill="#c0c0c0" stroke="none"/>
<circle cx="478.3" cy="925.60" r="4.2" fill="#c0c0c0" stroke="none"/>
<circle cx="562.6" cy="927.41" r="4.2" fill="#c0c0c0" stroke="none"/>
<circle cx="394.0" cy="990.61" r="4.2" fill="#c0c0c0" stroke="none"/>
<circle cx="478.3" cy="954.49" r="4.2" fill="#c0c0c0" stroke="none"/>
<circle cx="562.6" cy="931.02" r="4.2" fill="#c0c0c0" stroke="none"/>
<polyline points="394.0,942.57 478.3,923.07 562.6,905.74" fill="none" stroke="#5c5c5c" stroke-width="1"/>
<circle cx="394.0" cy="942.57" r="6.4" fill="none" stroke="#4a4a4a" stroke-width="1.0"/>
<circle cx="478.3" cy="923.07" r="6.4" fill="none" stroke="#4a4a4a" stroke-width="1.0"/>
<circle cx="562.6" cy="905.74" r="6.4" fill="none" stroke="#4a4a4a" stroke-width="1.0"/>
<line x1="119.3" y1="56.8" x2="289" y2="56.8" stroke="#a8a8a8" stroke-width="1.6"/>
<line x1="120.7" y1="447.4" x2="290.7" y2="447.4" stroke="#a0a0a0" stroke-width="1.4"/>
<line x1="395" y1="447.2" x2="565.7" y2="447.2" stroke="#a0a0a0" stroke-width="1.4"/>
<text x="200.9" y="60.0" font-size="28" text-anchor="middle" stroke="#000" stroke-width="0.6">*</text>
<text x="198.0" y="451.0" font-size="28" text-anchor="middle" stroke="#000" stroke-width="0.6">*</text>
<text x="210.4" y="451.0" font-size="28" text-anchor="middle" stroke="#000" stroke-width="0.6">*</text>
<text x="473.2" y="451.0" font-size="28" text-anchor="middle" stroke="#000" stroke-width="0.6">*</text>
<text x="485.4" y="451.0" font-size="28" text-anchor="middle" stroke="#000" stroke-width="0.6">*</text>
<text x="561.5" y="824.0" font-size="28" text-anchor="middle" stroke="#000" stroke-width="0.6">*</text>
</g></svg></body></html>
